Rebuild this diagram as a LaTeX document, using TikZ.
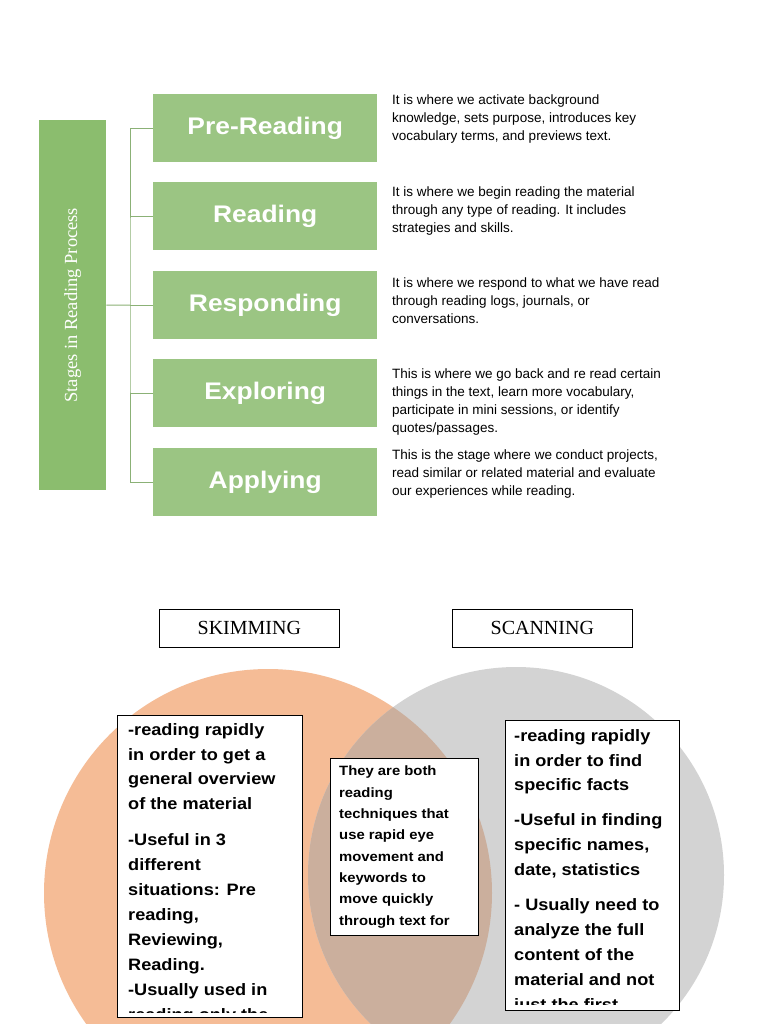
\documentclass[tikz,border=0pt]{standalone}
\usepackage{fontspec}
\setmainfont{Liberation Sans}
\newfontfamily\seriff{Liberation Serif}
\newfontfamily\widebf[FakeStretch=1.1]{Liberation Sans Bold}
\begin{document}
\begin{tikzpicture}[x=1pt,y=-1pt,
  stage/.style={fill=stagegreen,draw=none,minimum width=224pt,minimum height=68pt,anchor=north west,inner sep=0pt,text=white,font=\widebf\fontsize{24}{28}\selectfont},
  desc/.style={anchor=north west,align=left,inner sep=0pt,font=\fontsize{13.5}{17.8}\selectfont},
  conn/.style={draw=stagegreen!90!black,line width=1pt},
  title/.style={draw=black,line width=0.6pt,minimum width=180pt,minimum height=38pt,anchor=north west,inner sep=0pt,font=\seriff\fontsize{20}{24}\selectfont},
  tbox/.style={draw=black,line width=0.8pt,fill=white}]
\definecolor{stagegreen}{HTML}{9BC583}
\definecolor{bargreen}{HTML}{8BBD6E}
\definecolor{orng}{HTML}{F5BC96}
\definecolor{gry}{HTML}{D3D3D3}
\definecolor{ovl}{HTML}{CBAF9D}
\useasboundingbox (0,0) rectangle (768,1024);
\fill[white] (0,0) rectangle (768,1024);
% bar
\node[fill=bargreen,minimum width=67pt,minimum height=370pt,anchor=north west,inner sep=0pt] (bar) at (39,120) {};
\node[rotate=90,text=white,font=\seriff\fontsize{18.5}{20}\selectfont] (bartxt) at (bar.center) {Stages in Reading Process};
% stages
\node[stage] (s1) at (153,94) {Pre-Reading};
\node[stage] (s2) at (153,182) {Reading};
\node[stage] (s3) at (153,271) {Responding};
\node[stage] (s4) at (153,359) {Exploring};
\node[stage] (s5) at (153,448) {Applying};
\coordinate (j) at (130,305);
\draw[conn] (bar.east) -- (j);
\draw[conn] (s1.west) -| (j) |- (s5.west);
\draw[conn] (s2.west) -- (s2.west -| j);
\draw[conn] (s3.west) -- (s3.west -| j);
\draw[conn] (s4.west) -- (s4.west -| j);
% descriptions
\node[desc] (d1) at (392,95) {It is where we activate background\\knowledge, sets purpose, introduces key\\vocabulary terms, and previews text.};
\node[desc] (d2) at (392,187) {It is where we begin reading the material\\through any type of reading. It includes\\strategies and skills.};
\node[desc] (d3) at (392,278) {It is where we respond to what we have read\\through reading logs, journals, or\\conversations.};
\node[desc] (d4) at (392,369) {This is where we go back and re read certain\\things in the text, learn more vocabulary,\\participate in mini sessions, or identify\\quotes/passages.};
\node[desc] (d5) at (392,450) {This is the stage where we conduct projects,\\read similar or related material and evaluate\\our experiences while reading.};
% titles
\node[title] (sk) at (159,609) {SKIMMING};
\node[title] (sc) at (452,609) {SCANNING};
% venn
\fill[orng] (268,893) circle (224);
\fill[gry] (516,875) circle (208);
\begin{scope}
\clip (268,893) circle (224);
\fill[ovl] (516,875) circle (208);
\end{scope}
% left box
\draw[tbox] (117,715) rectangle (302,1017);
\begin{scope}
\clip (118,716) rectangle (301,1012);
\node[anchor=north west,align=left,inner sep=0pt,font=\widebf\fontsize{16.5}{24.9}\selectfont] (lt) at (128,723) {-reading rapidly\\in order to get a\\general overview\\of the material\\[11pt]-Useful in 3\\different\\situations: Pre\\reading,\\Reviewing,\\Reading.\\-Usually used in\\reading only the};
\end{scope}
% middle box
\draw[tbox] (330,758) rectangle (478,935);
\node[anchor=north west,align=left,inner sep=0pt,font=\widebf\fontsize{13.5}{21.3}\selectfont] (mt) at (339,766) {They are both\\reading\\techniques that\\use rapid eye\\movement and\\keywords to\\move quickly\\through text for};
% right box
\draw[tbox] (505,720) rectangle (679,1010);
\begin{scope}
\clip (506,721) rectangle (678,1004);
\node[anchor=north west,align=left,inner sep=0pt,font=\widebf\fontsize{16.5}{24.9}\selectfont] (rt) at (514,729) {-reading rapidly\\in order to find\\specific facts\\[10pt]-Useful in finding\\specific names,\\date, statistics\\[10pt]- Usually need to\\analyze the full\\content of the\\material and not\\just the first};
\end{scope}
\end{tikzpicture}
\end{document}
